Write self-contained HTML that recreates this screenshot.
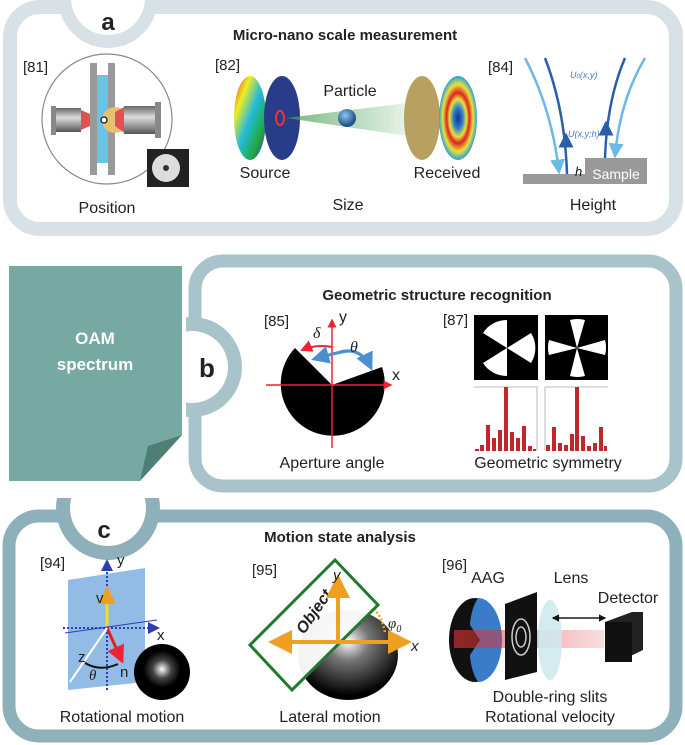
<!DOCTYPE html>
<html><head><meta charset="utf-8"><style>
html,body{margin:0;padding:0;background:#fff;}
svg{display:block;font-family:"Liberation Sans",sans-serif;}
</style></head><body>
<svg width="685" height="745" viewBox="0 0 685 745" xmlns="http://www.w3.org/2000/svg">
<defs>
<clipPath id="cb"><rect x="186" y="250" width="100" height="250"/></clipPath>
<clipPath id="cc"><rect x="0" y="498" width="685" height="100"/></clipPath>
<radialGradient id="sph" cx="0.5" cy="0.35" r="0.6"><stop offset="0" stop-color="#fff"/><stop offset="0.35" stop-color="#777"/><stop offset="1" stop-color="#000"/></radialGradient>
<radialGradient id="sph2" cx="0.5" cy="0.45" r="0.55"><stop offset="0" stop-color="#fff"/><stop offset="0.3" stop-color="#444"/><stop offset="0.6" stop-color="#000"/></radialGradient>
<radialGradient id="blue" cx="0.4" cy="0.35" r="0.6"><stop offset="0" stop-color="#8cc8ee"/><stop offset="1" stop-color="#1c4f8a"/></radialGradient>
<linearGradient id="beam" x1="0" x2="1"><stop offset="0" stop-color="#3e9a4a"/><stop offset="1" stop-color="#e9f4ea"/></linearGradient>
<linearGradient id="cyl" x1="0" y1="0" x2="0" y2="1"><stop offset="0" stop-color="#666"/><stop offset="0.4" stop-color="#ddd"/><stop offset="1" stop-color="#555"/></linearGradient>
<linearGradient id="red" x1="0" x2="1"><stop offset="0" stop-color="#d33" stop-opacity="0.8"/><stop offset="1" stop-color="#d33" stop-opacity="0.2"/></linearGradient>
<linearGradient id="rainbow" x1="0" y1="0" x2="1" y2="1"><stop offset="0" stop-color="#d22"/><stop offset="0.25" stop-color="#ee2"/><stop offset="0.5" stop-color="#2bd"/><stop offset="0.75" stop-color="#2a4"/><stop offset="1" stop-color="#33a"/></linearGradient>
<radialGradient id="recv" cx="0.5" cy="0.5" r="0.5"><stop offset="0" stop-color="#1a2b8a"/><stop offset="0.25" stop-color="#2b7fd0"/><stop offset="0.45" stop-color="#e7e23a"/><stop offset="0.6" stop-color="#d22"/><stop offset="0.8" stop-color="#e9e23a"/><stop offset="1" stop-color="#2aa0d8"/></radialGradient>
<marker id="ab" markerWidth="6" markerHeight="6" refX="5" refY="3" orient="auto"><path d="M0,0L6,3L0,6z" fill="#2a5ea8"/></marker>
<marker id="al" markerWidth="6" markerHeight="6" refX="5" refY="3" orient="auto"><path d="M0,0L6,3L0,6z" fill="#6cb8e6"/></marker>
<marker id="ar" markerWidth="6" markerHeight="6" refX="5" refY="3" orient="auto"><path d="M0,0L6,3L0,6z" fill="#e23"/></marker>
<marker id="abl" markerWidth="6" markerHeight="6" refX="5" refY="3" orient="auto"><path d="M0,0L6,3L0,6z" fill="#4a90d0"/></marker>
<marker id="ao" markerWidth="6" markerHeight="6" refX="4" refY="3" orient="auto"><path d="M0,0L6,3L0,6z" fill="#f0a020"/></marker>
<marker id="ak" markerWidth="6" markerHeight="6" refX="5" refY="3" orient="auto"><path d="M0,0L6,3L0,6z" fill="#111"/></marker>
<marker id="ad" markerWidth="6" markerHeight="6" refX="4" refY="3" orient="auto"><path d="M0,0L6,3L0,6z" fill="#2b3fb0"/></marker>
</defs>

<!-- Panel a -->
<rect x="10" y="7" width="666" height="222" rx="30" fill="#fff" stroke="#d8e2e6" stroke-width="14"/>
<circle cx="108" cy="-2" r="50" fill="#d8e2e6"/>
<circle cx="108" cy="-2" r="37" fill="#fff"/>
<text x="108" y="30" font-size="24" font-weight="bold" text-anchor="middle" fill="#222">a</text>
<text x="345" y="40" font-size="15" font-weight="bold" text-anchor="middle" fill="#222">Micro-nano scale measurement</text>
<text x="23" y="72" font-size="15" fill="#222">[81]</text>
<circle cx="107" cy="119" r="65" fill="#fff" stroke="#888" stroke-width="1.2"/>
<rect x="51" y="108" width="30" height="24" fill="url(#cyl)"/>
<rect x="51" y="106" width="5" height="29" fill="#888"/>
<polygon points="81,110 99,118 99,122 81,130" fill="#e25050"/>
<rect x="90" y="63" width="7" height="112" fill="#999"/>
<rect x="108" y="63" width="7" height="112" fill="#999"/>
<rect x="97" y="75" width="11" height="88" fill="#6cc2e2"/>
<circle cx="115" cy="120" r="13" fill="#e8c070"/>
<polygon points="115,112 126,106 126,134 115,126" fill="#e25050"/>
<rect x="124" y="106" width="32" height="28" fill="url(#cyl)"/>
<rect x="155" y="102" width="6" height="36" fill="#888"/>
<circle cx="104" cy="120" r="3" fill="#fff" stroke="#333" stroke-width="1.5"/>
<rect x="147" y="149" width="42" height="38" fill="#222"/>
<circle cx="166" cy="168" r="14" fill="#ddd"/><circle cx="166" cy="168" r="3" fill="#333"/>
<text x="107" y="213" font-size="16" text-anchor="middle" fill="#222">Position</text>

<text x="215" y="70" font-size="15" fill="#222">[82]</text>
<ellipse cx="250" cy="118" rx="16" ry="42" fill="url(#rainbow)"/>
<ellipse cx="282" cy="118" rx="18" ry="42" fill="#283c8a"/>
<ellipse cx="280" cy="118" rx="4" ry="7" fill="none" stroke="#e33" stroke-width="2"/>
<polygon points="286,118 415,102 415,137" fill="url(#beam)" opacity="0.7"/>
<circle cx="347" cy="118" r="9" fill="url(#blue)"/>
<text x="350" y="96" font-size="16" text-anchor="middle" fill="#222">Particle</text>
<ellipse cx="422" cy="118" rx="18" ry="42" fill="#b8a060"/>
<ellipse cx="458" cy="118" rx="19" ry="42" fill="url(#recv)"/>
<text x="265" y="178" font-size="16" text-anchor="middle" fill="#222">Source</text>
<text x="447" y="178" font-size="16" text-anchor="middle" fill="#222">Received</text>
<text x="348" y="210" font-size="16" text-anchor="middle" fill="#222">Size</text>

<text x="488" y="72" font-size="15" fill="#222">[84]</text>
<path d="M525,58 Q552,110 559,172" fill="none" stroke="#6cb8e6" stroke-width="2.5" marker-end="url(#al)"/>
<path d="M567,174 Q565,110 545,58" fill="none" stroke="#2a5ea8" stroke-width="2.5"/>
<path d="M566,140 L566,135" stroke="#2a5ea8" stroke-width="2.5" marker-end="url(#ab)"/>
<path d="M605,158 Q607,100 625,58" fill="none" stroke="#2a5ea8" stroke-width="2.5"/>
<path d="M606,128 L606,123" stroke="#2a5ea8" stroke-width="2.5" marker-end="url(#ab)"/>
<path d="M645,58 Q620,100 615,156" fill="none" stroke="#6cb8e6" stroke-width="2.5" marker-end="url(#al)"/>
<text x="570" y="78" font-size="9" font-style="italic" fill="#4a78c8">U<tspan font-size="6">0</tspan>(x,y)</text>
<text x="568" y="137" font-size="9" font-style="italic" fill="#4a78c8">U(x,y;h)</text>
<rect x="523" y="174" width="124" height="10" fill="#999"/>
<rect x="585" y="158" width="62" height="26" fill="#999"/>
<text x="616" y="179" font-size="14" text-anchor="middle" fill="#fff">Sample</text>
<text x="575" y="176" font-size="13" font-style="italic" fill="#111">h</text>
<text x="593" y="210" font-size="16" text-anchor="middle" fill="#222">Height</text>

<!-- OAM -->
<polygon points="9,266 182,266 182,435 140,481 9,481" fill="#76a9a1"/>
<polygon points="182,435 148,446 140,481" fill="#4d7f76"/>
<text x="95" y="344" font-size="17" font-weight="bold" text-anchor="middle" fill="#fff">OAM</text>
<text x="95" y="370" font-size="17" font-weight="bold" text-anchor="middle" fill="#fff">spectrum</text>

<!-- Panel b -->
<rect x="195" y="261" width="481" height="225" rx="28" fill="#fff" stroke="#a9c3cb" stroke-width="13"/>
<g clip-path="url(#cb)">
<circle cx="192" cy="367" r="50" fill="#a9c3cb"/>
<circle cx="192" cy="367" r="36" fill="#fff"/>
</g>
<text x="207" y="377" font-size="26" font-weight="bold" text-anchor="middle" fill="#222">b</text>
<text x="437" y="300" font-size="15" font-weight="bold" text-anchor="middle" fill="#222">Geometric structure recognition</text>
<text x="264" y="326" font-size="15" fill="#222">[85]</text>
<path d="M332,385 L295,348 A52,52 0 1 0 382,367 Z" fill="#000"/>
<line x1="266" y1="385" x2="391" y2="385" stroke="#e23" stroke-width="1.5" marker-end="url(#ar)"/>
<line x1="332" y1="448" x2="332" y2="320" stroke="#e23" stroke-width="1.5" marker-end="url(#ar)"/>
<path d="M332,347 Q316,344 302,350" fill="none" stroke="#e23" stroke-width="2" marker-end="url(#ar)"/>
<path d="M337,353 Q360,345 371,368" fill="none" stroke="#4a90d0" stroke-width="3" marker-end="url(#abl)"/>
<path d="M350,351 Q342,351 314,359" fill="none" stroke="#4a90d0" stroke-width="3" marker-end="url(#abl)"/>
<text x="339" y="322" font-size="16" fill="#222">y</text>
<text x="392" y="380" font-size="16" fill="#222">x</text>
<text x="313" y="338" font-size="16" font-style="italic" font-family="Liberation Serif" fill="#222">δ</text>
<text x="350" y="352" font-size="16" font-style="italic" font-family="Liberation Serif" fill="#222">θ</text>
<text x="332" y="468" font-size="16" text-anchor="middle" fill="#222">Aperture angle</text>

<text x="443" y="325" font-size="15" fill="#222">[87]</text>
<rect x="474" y="315" width="64" height="65" fill="#000"/>
<g fill="#fff"><path d="M507,348 L483,333 A28,28 0 0 1 507,320 Z"/><path d="M507,348 L531,333 A28,28 0 0 1 531,363 Z"/><path d="M507,348 L507,376 A28,28 0 0 1 483,363 Z"/></g>
<rect x="545" y="315" width="63" height="65" fill="#000"/>
<g fill="#fff"><path d="M577,348 L570,320 A28,28 0 0 1 585,320 Z"/><path d="M577,348 L605,340 A28,28 0 0 1 605,355 Z"/><path d="M577,348 L585,376 A28,28 0 0 1 570,376 Z"/><path d="M577,348 L549,355 A28,28 0 0 1 549,340 Z"/></g>
<line x1="474" y1="387" x2="538" y2="387" stroke="#bbb"/><line x1="537" y1="387" x2="537" y2="451" stroke="#bbb"/>
<line x1="545" y1="387" x2="608" y2="387" stroke="#bbb"/><line x1="545" y1="387" x2="545" y2="451" stroke="#bbb"/>
<g fill="#c0262c">
<rect x="475" y="449" width="4" height="2"/><rect x="480" y="445" width="4" height="6"/><rect x="486" y="425" width="4" height="26"/><rect x="492" y="438" width="4" height="13"/><rect x="498" y="430" width="4" height="21"/><rect x="504" y="387" width="4" height="64"/><rect x="510" y="432" width="4" height="19"/><rect x="516" y="438" width="4" height="13"/><rect x="522" y="426" width="4" height="25"/><rect x="528" y="446" width="4" height="5"/><rect x="533" y="449" width="3" height="2"/>
<rect x="546" y="445" width="4" height="6"/><rect x="552" y="427" width="4" height="24"/><rect x="558" y="443" width="4" height="8"/><rect x="564" y="445" width="4" height="6"/><rect x="570" y="434" width="4" height="17"/><rect x="575" y="387" width="4" height="64"/><rect x="581" y="436" width="4" height="15"/><rect x="587" y="446" width="4" height="5"/><rect x="593" y="443" width="4" height="8"/><rect x="599" y="427" width="4" height="24"/><rect x="604" y="446" width="3" height="5"/>
</g>
<text x="548" y="468" font-size="16" text-anchor="middle" fill="#222">Geometric symmetry</text>

<!-- Panel c -->
<rect x="9" y="516" width="667" height="220" rx="30" fill="#fff" stroke="#8eb0ba" stroke-width="13"/>
<g clip-path="url(#cc)">
<circle cx="108" cy="508" r="52" fill="#8eb0ba"/>
<circle cx="108" cy="508" r="38" fill="#fff"/>
</g>
<text x="104" y="538" font-size="24" font-weight="bold" text-anchor="middle" fill="#222">c</text>
<text x="340" y="542" font-size="15" font-weight="bold" text-anchor="middle" fill="#222">Motion state analysis</text>

<text x="40" y="568" font-size="15" fill="#222">[94]</text>
<polygon points="68,580 145,568 145,682 68,690" fill="#7fb0e0" opacity="0.85"/>
<line x1="107" y1="690" x2="107" y2="563" stroke="#2b3fb0" stroke-width="2" stroke-dasharray="2,2" marker-end="url(#ad)"/>
<line x1="63" y1="628" x2="156" y2="628" stroke="#2b3fb0" stroke-width="2" stroke-dasharray="2,2" marker-end="url(#ad)"/>
<line x1="65" y1="633" x2="157" y2="620" stroke="#2b3fb0" stroke-width="1"/>
<line x1="107" y1="626" x2="107" y2="592" stroke="#f0e020" stroke-width="3" marker-end="url(#ao)"/>
<line x1="107" y1="628" x2="122" y2="661" stroke="#e02020" stroke-width="3" marker-end="url(#ar)"/>
<line x1="107" y1="628" x2="70" y2="682" stroke="#fff" stroke-width="2"/>
<path d="M85,663 Q100,672 118,664" fill="none" stroke="#111" stroke-width="2"/>
<text x="117" y="565" font-size="15" fill="#222">y</text>
<text x="157" y="640" font-size="15" fill="#222">x</text>
<text x="96" y="603" font-size="15" fill="#222">v</text>
<text x="78" y="662" font-size="15" fill="#222">z</text>
<text x="89" y="680" font-size="15" font-style="italic" font-family="Liberation Serif" fill="#222">θ</text>
<text x="120" y="677" font-size="15" fill="#222">n</text>
<circle cx="162" cy="672" r="28" fill="url(#sph2)"/>
<text x="122" y="722" font-size="16" text-anchor="middle" fill="#222">Rotational motion</text>

<text x="252" y="575" font-size="15" fill="#222">[95]</text>
<ellipse cx="348" cy="655" rx="50" ry="45" fill="url(#sph)"/>
<polygon points="335,560 378,605 292,690 250,645" fill="#fff" fill-opacity="0.95" stroke="#1f7a2e" stroke-width="3"/>
<text x="0" y="0" font-size="16" font-weight="bold" font-style="italic" fill="#222" transform="translate(304,635) rotate(-55)">Object</text>
<line x1="338" y1="642" x2="338" y2="582" stroke="#f0a020" stroke-width="4" marker-end="url(#ao)"/>
<line x1="338" y1="642" x2="276" y2="642" stroke="#f0a020" stroke-width="4" marker-end="url(#ao)"/>
<line x1="338" y1="642" x2="404" y2="642" stroke="#f0a020" stroke-width="4" marker-end="url(#ao)"/>
<path d="M385,632 Q382,618 375,610" fill="none" stroke="#f0a020" stroke-width="2.5" stroke-dasharray="2,2"/>
<text x="333" y="580" font-size="15" font-style="italic" fill="#222">y</text>
<text x="411" y="651" font-size="15" font-style="italic" fill="#222">x</text>
<text x="388" y="628" font-size="15" font-style="italic" font-family="Liberation Serif" fill="#222">φ<tspan font-size="10" dy="4">0</tspan></text>
<text x="330" y="722" font-size="16" text-anchor="middle" fill="#222">Lateral motion</text>

<text x="442" y="570" font-size="15" fill="#222">[96]</text>
<text x="488" y="583" font-size="16" text-anchor="middle" fill="#222">AAG</text>
<text x="571" y="583" font-size="16" text-anchor="middle" fill="#222">Lens</text>
<text x="628" y="603" font-size="16" text-anchor="middle" fill="#222">Detector</text>
<ellipse cx="475" cy="640" rx="26" ry="42" fill="#111"/>
<path d="M478,598 A24,42 0 0 1 478,682 A24,42 0 0 1 470,655 L480,640 L470,625 A24,42 0 0 1 478,598Z" fill="#3a7cc8"/>
<rect x="454" y="630" width="150" height="18" fill="url(#red)" opacity="0.8"/>
<polygon points="505,604 537,592 537,672 505,680" fill="#111"/>
<ellipse cx="521" cy="637" rx="9" ry="18" fill="none" stroke="#ccc" stroke-width="1.5"/>
<ellipse cx="521" cy="637" rx="5" ry="10" fill="none" stroke="#ccc" stroke-width="1.5"/>
<ellipse cx="550" cy="640" rx="12" ry="40" fill="#cfe9ee" opacity="0.9"/>
<line x1="553" y1="618" x2="605" y2="618" stroke="#111" stroke-width="1.2" marker-end="url(#ak)"/>
<line x1="605" y1="618" x2="553" y2="618" stroke="#111" stroke-width="1.2" marker-end="url(#ak)"/>
<polygon points="605,622 632,612 643,612 643,650 618,662 605,662" fill="#222"/>
<rect x="605" y="622" width="27" height="40" fill="#111"/>
<text x="550" y="702" font-size="16" text-anchor="middle" fill="#222">Double-ring slits</text>
<text x="550" y="722" font-size="16" text-anchor="middle" fill="#222">Rotational velocity</text>
</svg>
</body></html>
